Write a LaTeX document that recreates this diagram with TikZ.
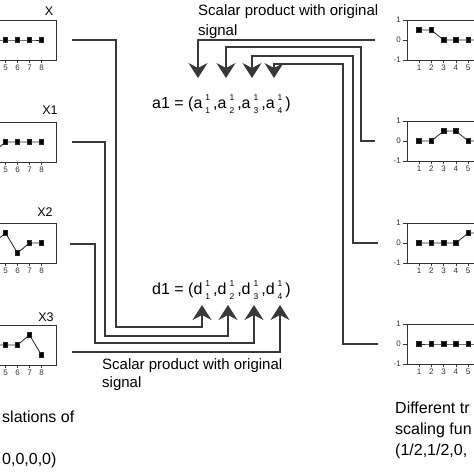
\documentclass[tikz,border=0pt]{standalone}
\usepackage{fontspec}
\setmainfont{Liberation Sans}
\usetikzlibrary{arrows.meta,plotmarks}
\newcommand{\supsub}[2]{#1\hspace{3pt}\rlap{\raisebox{7.5pt}{\fontsize{8.5}{8.5}\selectfont 1}}\raisebox{-5.5pt}{\fontsize{8.5}{8.5}\selectfont #2}\hspace{3pt}}
\begin{document}
\begin{tikzpicture}[x=1pt,y=-1pt,
  conn/.style={draw=black!78, line width=1.2pt},
  arr/.style={conn, -{Stealth[length=15pt,width=19pt,inset=5pt]}},
  frame/.style={draw=black!80, line width=0.9pt},
  curve/.style={draw=black!85, line width=0.8pt, mark=square*, mark size=2.3pt, mark options={fill=black}},
  ticklbl/.style={font=\fontsize{8}{8}\selectfont, inner sep=0pt, text=black!80},
  plabel/.style={font=\fontsize{12.5}{12.5}\selectfont, inner sep=0pt},
  caption/.style={font=\fontsize{15}{18}\selectfont, inner sep=0pt, anchor=west},
  big/.style={font=\fontsize{16}{16}\selectfont, inner sep=0pt, anchor=west},
  eq/.style={font=\fontsize{16}{16}\selectfont, inner sep=0pt, anchor=base west}]
\useasboundingbox (0,0) rectangle (474,474);
\clip (0,0) rectangle (474,474);
\fill[white] (0,0) rectangle (474,474);

% ---------- left panels ----------
\foreach \z in {40,142,243,345}{
  \draw[frame] (-10,\z-20) rectangle (56,\z+20);
  \foreach \i/\xx in {5/5.5,6/17.5,7/29.5,8/41.5}{
    \draw[frame,line width=0.6pt] (\xx,\z+20) -- (\xx,\z+23);
    \node[ticklbl] at (\xx,\z+28) {\i};
  }
}
\draw[curve] plot coordinates {(-18.5,40) (-6.5,40) (5.5,40) (17.5,40) (29.5,40) (41.5,40)};
\draw[curve] plot coordinates {(-18.5,132) (-6.5,152) (5.5,142) (17.5,142) (29.5,142) (41.5,142)};
\draw[curve] plot coordinates {(-6.5,243) (5.5,233) (17.5,253) (29.5,243) (41.5,243)};
\draw[curve] plot coordinates {(-6.5,345) (5.5,345) (17.5,345) (29.5,335) (41.5,355)};
\node[plabel] (lX)  at (49,11)  {X};
\node[plabel] (lX1) at (50,110) {X1};
\node[plabel] (lX2) at (45,212) {X2};
\node[plabel] (lX3) at (46,317) {X3};

% ---------- right panels ----------
\foreach \z in {40,141,243,344}{
  \draw[frame] (407,\z-20) rectangle (490,\z+20);
  \foreach \yy/\t in {-20/1,0/0,20/-1}{
    \draw[frame,line width=0.6pt] (403,\z+\yy) -- (407,\z+\yy);
    \node[ticklbl,anchor=east] at (401,\z+\yy) {\t};
  }
  \foreach \i/\xx in {1/419,2/431.3,3/443.6,4/455.9,5/468.2}{
    \draw[frame,line width=0.6pt] (\xx,\z+20) -- (\xx,\z+23);
    \node[ticklbl] at (\xx,\z+28) {\i};
  }
}
\draw[curve] plot coordinates {(419,30) (431.3,30) (443.6,40) (455.9,40) (468.2,40) (480.5,40)};
\draw[curve] plot coordinates {(419,141) (431.3,141) (443.6,131) (455.9,131) (468.2,141) (480.5,141)};
\draw[curve] plot coordinates {(419,243) (431.3,243) (443.6,243) (455.9,243) (468.2,233) (480.5,233)};
\draw[curve] plot coordinates {(419,344) (431.3,344) (443.6,344) (455.9,344) (468.2,344) (480.5,344)};

% ---------- equations ----------
\node[eq] (a1) at (152,108) {a1 = (\supsub{a}{1},\supsub{a}{2},\supsub{a}{3},\supsub{a}{4})};
\node[eq] (d1) at (152,294) {d1 = (\supsub{d}{1},\supsub{d}{2},\supsub{d}{3},\supsub{d}{4})};

% ---------- captions ----------
\node[caption] (ctop1) at (198,12) {Scalar product with original};
\node[caption] (ctop2) at (198,32) {signal};
\node[caption] (cbot1) at (102,366) {Scalar product with original};
\node[caption] (cbot2) at (102,384) {signal};
\node[big] (bl1) at (2,417) {slations of};
\node[big] (bl2) at (2,460) {0,0,0,0)};
\node[big] (br1) at (395,408) {Different tr};
\node[big] (br2) at (395,430) {scaling fun};
\node[big] (br3) at (395,451) {(1/2,1/2,0,};

% ---------- connector ends ----------
\coordinate (sX)  at (72,40);
\coordinate (sX1) at (72,142);
\coordinate (sX2) at (70,244);
\coordinate (sX3) at (72,352);
\coordinate (tD1) at (202,305);
\coordinate (tD2) at (228,305);
\coordinate (tD3) at (254,305);
\coordinate (tD4) at (280,305);
\coordinate (eP1) at (375,40);
\coordinate (eP2) at (375,141);
\coordinate (eP3) at (378,243);
\coordinate (eP4) at (378,344);
\coordinate (tA1) at (198,78);
\coordinate (tA2) at (226,78);
\coordinate (tA3) at (252,78);
\coordinate (tA4) at (274,78);

\draw[arr] (sX)  -| (116,327) -| (tD1);
\draw[arr] (sX1) -| (105,336) -| (tD2);
\draw[arr] (sX2) -| (95,343)  -| (tD3);
\draw[arr] (sX3) -| (tD4);

\draw[arr] (eP1) -| (tA1);
\draw[arr] (eP2) -| (361,47) -| (tA2);
\draw[arr] (eP3) -| (353,56) -| (tA3);
\draw[arr] (eP4) -| (343,64) -| (tA4);
\end{tikzpicture}
\end{document}
